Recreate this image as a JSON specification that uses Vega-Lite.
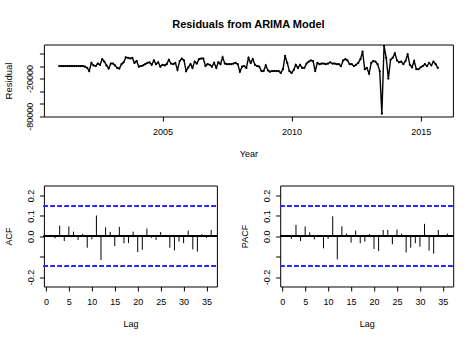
{
  "$schema": "https://vega.github.io/schema/vega-lite/v6.json",
  "background": "white",
  "padding": {"left": 2.9, "top": 18.5, "right": 0, "bottom": 0},
  "bounds": "flush",
  "spacing": 69,
  "datasets": {
    "resid": [
      {"month":"2001-01","residual":0},{"month":"2001-02","residual":0},{"month":"2001-03","residual":0},{"month":"2001-04","residual":0},{"month":"2001-05","residual":0},{"month":"2001-06","residual":0},{"month":"2001-07","residual":0},{"month":"2001-08","residual":0},{"month":"2001-09","residual":0},{"month":"2001-10","residual":0},{"month":"2001-11","residual":0},{"month":"2001-12","residual":0},
      {"month":"2002-01","residual":-1000},{"month":"2002-02","residual":-3000},{"month":"2002-03","residual":-8000},{"month":"2002-04","residual":5000},{"month":"2002-05","residual":1000},{"month":"2002-06","residual":0},{"month":"2002-07","residual":4000},{"month":"2002-08","residual":2000},{"month":"2002-09","residual":11000},{"month":"2002-10","residual":7000},{"month":"2002-11","residual":1000},{"month":"2002-12","residual":-4000},
      {"month":"2003-01","residual":4000},{"month":"2003-02","residual":4000},{"month":"2003-03","residual":1000},{"month":"2003-04","residual":-3000},{"month":"2003-05","residual":-4000},{"month":"2003-06","residual":3000},{"month":"2003-07","residual":6000},{"month":"2003-08","residual":14000},{"month":"2003-09","residual":13000},{"month":"2003-10","residual":12000},{"month":"2003-11","residual":13000},{"month":"2003-12","residual":5000},
      {"month":"2004-01","residual":8000},{"month":"2004-02","residual":-1000},{"month":"2004-03","residual":0},{"month":"2004-04","residual":1000},{"month":"2004-05","residual":3000},{"month":"2004-06","residual":5000},{"month":"2004-07","residual":6000},{"month":"2004-08","residual":2000},{"month":"2004-09","residual":9000},{"month":"2004-10","residual":3000},{"month":"2004-11","residual":6000},{"month":"2004-12","residual":-1000},
      {"month":"2005-01","residual":2000},{"month":"2005-02","residual":1000},{"month":"2005-03","residual":3000},{"month":"2005-04","residual":10000},{"month":"2005-05","residual":4000},{"month":"2005-06","residual":3000},{"month":"2005-07","residual":5000},{"month":"2005-08","residual":-6000},{"month":"2005-09","residual":8000},{"month":"2005-10","residual":12000},{"month":"2005-11","residual":9000},{"month":"2005-12","residual":-8000},
      {"month":"2006-01","residual":-2000},{"month":"2006-02","residual":3000},{"month":"2006-03","residual":-3000},{"month":"2006-04","residual":7000},{"month":"2006-05","residual":4000},{"month":"2006-06","residual":11000},{"month":"2006-07","residual":12000},{"month":"2006-08","residual":12000},{"month":"2006-09","residual":0},{"month":"2006-10","residual":3000},{"month":"2006-11","residual":2000},{"month":"2006-12","residual":-1000},
      {"month":"2007-01","residual":5000},{"month":"2007-02","residual":-3000},{"month":"2007-03","residual":6000},{"month":"2007-04","residual":3000},{"month":"2007-05","residual":14000},{"month":"2007-06","residual":4000},{"month":"2007-07","residual":3000},{"month":"2007-08","residual":3000},{"month":"2007-09","residual":3000},{"month":"2007-10","residual":4000},{"month":"2007-11","residual":5000},{"month":"2007-12","residual":3000},
      {"month":"2008-01","residual":-9000},{"month":"2008-02","residual":-1000},{"month":"2008-03","residual":0},{"month":"2008-04","residual":-3000},{"month":"2008-05","residual":13000},{"month":"2008-06","residual":5000},{"month":"2008-07","residual":11000},{"month":"2008-08","residual":2000},{"month":"2008-09","residual":0},{"month":"2008-10","residual":-1000},{"month":"2008-11","residual":-8000},{"month":"2008-12","residual":-8000},
      {"month":"2009-01","residual":1000},{"month":"2009-02","residual":-7000},{"month":"2009-03","residual":-9000},{"month":"2009-04","residual":-8000},{"month":"2009-05","residual":-8000},{"month":"2009-06","residual":-8000},{"month":"2009-07","residual":-8000},{"month":"2009-08","residual":-11000},{"month":"2009-09","residual":-5000},{"month":"2009-10","residual":16000},{"month":"2009-11","residual":5000},{"month":"2009-12","residual":-8000},
      {"month":"2010-01","residual":-11000},{"month":"2010-02","residual":-6000},{"month":"2010-03","residual":2000},{"month":"2010-04","residual":-3000},{"month":"2010-05","residual":2000},{"month":"2010-06","residual":-3000},{"month":"2010-07","residual":-3000},{"month":"2010-08","residual":4000},{"month":"2010-09","residual":7000},{"month":"2010-10","residual":9000},{"month":"2010-11","residual":8000},{"month":"2010-12","residual":-8000},
      {"month":"2011-01","residual":5000},{"month":"2011-02","residual":3000},{"month":"2011-03","residual":4000},{"month":"2011-04","residual":4000},{"month":"2011-05","residual":3000},{"month":"2011-06","residual":4000},{"month":"2011-07","residual":6000},{"month":"2011-08","residual":4000},{"month":"2011-09","residual":4000},{"month":"2011-10","residual":3000},{"month":"2011-11","residual":3000},{"month":"2011-12","residual":0},
      {"month":"2012-01","residual":9000},{"month":"2012-02","residual":11000},{"month":"2012-03","residual":9000},{"month":"2012-04","residual":3000},{"month":"2012-05","residual":3000},{"month":"2012-06","residual":0},{"month":"2012-07","residual":2000},{"month":"2012-08","residual":5000},{"month":"2012-09","residual":11000},{"month":"2012-10","residual":23000},{"month":"2012-11","residual":-5000},{"month":"2012-12","residual":-3000},
      {"month":"2013-01","residual":-12000},{"month":"2013-02","residual":5000},{"month":"2013-03","residual":8000},{"month":"2013-04","residual":7000},{"month":"2013-05","residual":3000},{"month":"2013-06","residual":-8000},{"month":"2013-07","residual":-76000},{"month":"2013-08","residual":32000},{"month":"2013-09","residual":13000},{"month":"2013-10","residual":-20000},{"month":"2013-11","residual":10000},{"month":"2013-12","residual":13000},
      {"month":"2014-01","residual":20000},{"month":"2014-02","residual":9000},{"month":"2014-03","residual":6000},{"month":"2014-04","residual":7000},{"month":"2014-05","residual":3000},{"month":"2014-06","residual":8000},{"month":"2014-07","residual":19000},{"month":"2014-08","residual":2000},{"month":"2014-09","residual":-2000},{"month":"2014-10","residual":8000},{"month":"2014-11","residual":-5000},{"month":"2014-12","residual":-5000},
      {"month":"2015-01","residual":-2000},{"month":"2015-02","residual":0},{"month":"2015-03","residual":3000},{"month":"2015-04","residual":0},{"month":"2015-05","residual":5000},{"month":"2015-06","residual":1000},{"month":"2015-07","residual":7000},{"month":"2015-08","residual":3000},{"month":"2015-09","residual":-3000}
    ],
    "acf": [
      {"lag":1,"acf":0.005,"pacf":0.005},{"lag":2,"acf":-0.01,"pacf":-0.013},{"lag":3,"acf":0.052,"pacf":0.056},{"lag":4,"acf":-0.023,"pacf":-0.023},{"lag":5,"acf":0.048,"pacf":0.048},{"lag":6,"acf":0.023,"pacf":0.02},
      {"lag":7,"acf":-0.018,"pacf":-0.015},{"lag":8,"acf":0.012,"pacf":0.007},{"lag":9,"acf":-0.056,"pacf":-0.059},{"lag":10,"acf":-0.015,"pacf":-0.013},{"lag":11,"acf":0.102,"pacf":0.098},{"lag":12,"acf":-0.116,"pacf":-0.113},
      {"lag":13,"acf":0.044,"pacf":0.049},{"lag":14,"acf":0.021,"pacf":0.013},{"lag":15,"acf":-0.048,"pacf":-0.031},{"lag":16,"acf":0.046,"pacf":0.028},{"lag":17,"acf":-0.034,"pacf":-0.034},{"lag":18,"acf":-0.033,"pacf":-0.026},
      {"lag":19,"acf":0.023,"pacf":0.011},{"lag":20,"acf":-0.077,"pacf":-0.062},{"lag":21,"acf":-0.066,"pacf":-0.072},{"lag":22,"acf":0.038,"pacf":0.031},{"lag":23,"acf":-0.007,"pacf":0.031},{"lag":24,"acf":-0.018,"pacf":-0.039},
      {"lag":25,"acf":0.021,"pacf":0.033},{"lag":26,"acf":-0.003,"pacf":0.013},{"lag":27,"acf":-0.056,"pacf":-0.079},{"lag":28,"acf":-0.069,"pacf":-0.056},{"lag":29,"acf":-0.026,"pacf":-0.034},{"lag":30,"acf":-0.034,"pacf":-0.051},
      {"lag":31,"acf":0.028,"pacf":0.061},{"lag":32,"acf":-0.064,"pacf":-0.07},{"lag":33,"acf":-0.075,"pacf":-0.085},{"lag":34,"acf":0.01,"pacf":0.031},{"lag":35,"acf":-0.008,"pacf":-0.003},{"lag":36,"acf":0.031,"pacf":0.013}
    ]
  },
  "vconcat": [
    {
      "width": 409,
      "height": 72,
      "title": {"text": "Residuals from ARIMA Model", "anchor": "middle", "frame": "group", "offset": 3.7, "baseline": "alphabetic"},
      "data": {"name": "resid"},
      "mark": {"type": "line", "color": "black", "strokeWidth": 1.4, "point": {"filled": true, "size": 5, "color": "black"}},
      "encoding": {
        "x": {
          "field": "month", "type": "temporal",
          "scale": {"type": "utc", "domain": [{"year": 2000, "month": 5, "date": 29, "utc": true}, {"year": 2016, "month": 4, "date": 1, "utc": true}]},
          "axis": {"values": [{"year": 2005, "utc": true}, {"year": 2010, "utc": true}, {"year": 2015, "utc": true}], "format": "%Y", "formatType": "utc", "labelOverlap": false, "labelBaseline": "alphabetic", "labelPadding": 13.8, "title": "Year", "titleX": 204.5, "titleY": 39.8, "titleBaseline": "alphabetic", "titleAlign": "center"}
        },
        "y": {
          "field": "residual", "type": "quantitative",
          "scale": {"domain": [-80400, 34300], "nice": false, "zero": false},
          "axis": {"values": [-80000, -60000, -40000, -20000, 0, 20000], "format": "d", "labelOverlap": false, "labelExpr": "datum.value == -80000 || datum.value == -20000 ? replace(datum.label, '\u2212', '-') : ''", "labelAngle": 270, "labelAlign": "center", "labelBaseline": "alphabetic", "labelPadding": 6.8, "title": "Residual", "titleFontSize": 9.5, "titleAngle": 270, "titleX": -32.5, "titleY": 36, "titleBaseline": "alphabetic", "titleAlign": "center"}
        }
      }
    },
    {
      "hconcat": [
        {
          "width": 173,
          "height": 101,
          "data": {"name": "acf"},
          "encoding": {
            "x": {"field": "lag", "type": "quantitative", "scale": {"domain": [-0.44, 37.25], "nice": false, "zero": false},
              "axis": {"values": [0, 5, 10, 15, 20, 25, 30, 35], "labelOverlap": false, "labelBaseline": "alphabetic", "labelPadding": 13.8, "title": "Lag", "titleX": 86.5, "titleY": 39.8, "titleBaseline": "alphabetic", "titleAlign": "center"}},
            "y": {"field": "acf", "type": "quantitative", "scale": {"domain": [-0.246, 0.249], "nice": false, "zero": false},
              "axis": {"values": [-0.2, -0.1, 0, 0.1, 0.2], "labelOverlap": false, "labelExpr": "datum.value < -0.05 && datum.value > -0.15 ? '' : replace(format(datum.value, '.1f'), '\u2212', '-')", "labelAngle": 270, "labelAlign": "center", "labelBaseline": "alphabetic", "labelPadding": 5.8, "title": "ACF", "titleAngle": 270, "titleX": -32.5, "titleY": 50.5, "titleBaseline": "alphabetic", "titleAlign": "center"}}
          },
          "layer": [
            {
              "mark": {"type": "rule", "color": "black", "strokeWidth": 1},
              "encoding": {"y2": {"datum": 0}}
            },
            {
              "mark": {"type": "rule", "color": "black", "strokeWidth": 1},
              "encoding": {"x": {"value": 0}, "x2": {"value": 173}, "y": {"datum": 0}}
            },
            {
              "mark": {"type": "rule", "color": "#2a2aff", "strokeWidth": 1, "strokeDash": [4, 3]},
              "encoding": {"x": {"value": 0}, "x2": {"value": 173}, "y": {"datum": 0.1473}}
            },
            {
              "mark": {"type": "rule", "color": "#2a2aff", "strokeWidth": 1, "strokeDash": [4, 3]},
              "encoding": {"x": {"value": 0}, "x2": {"value": 173}, "y": {"datum": -0.1473}}
            }
          ]
        },
        {
          "width": 173,
          "height": 101,
          "data": {"name": "acf"},
          "encoding": {
            "x": {"field": "lag", "type": "quantitative", "scale": {"domain": [-0.44, 37.25], "nice": false, "zero": false},
              "axis": {"values": [0, 5, 10, 15, 20, 25, 30, 35], "labelOverlap": false, "labelBaseline": "alphabetic", "labelPadding": 13.8, "title": "Lag", "titleX": 86.5, "titleY": 39.8, "titleBaseline": "alphabetic", "titleAlign": "center"}},
            "y": {"field": "pacf", "type": "quantitative", "scale": {"domain": [-0.246, 0.249], "nice": false, "zero": false},
              "axis": {"values": [-0.2, -0.1, 0, 0.1, 0.2], "labelOverlap": false, "labelExpr": "datum.value < -0.05 && datum.value > -0.15 ? '' : replace(format(datum.value, '.1f'), '\u2212', '-')", "labelAngle": 270, "labelAlign": "center", "labelBaseline": "alphabetic", "labelPadding": 5.8, "title": "PACF", "titleAngle": 270, "titleX": -32.5, "titleY": 50.5, "titleBaseline": "alphabetic", "titleAlign": "center"}}
          },
          "layer": [
            {
              "mark": {"type": "rule", "color": "black", "strokeWidth": 1},
              "encoding": {"y2": {"datum": 0}}
            },
            {
              "mark": {"type": "rule", "color": "black", "strokeWidth": 1},
              "encoding": {"x": {"value": 0}, "x2": {"value": 173}, "y": {"datum": 0}}
            },
            {
              "mark": {"type": "rule", "color": "#2a2aff", "strokeWidth": 1, "strokeDash": [4, 3]},
              "encoding": {"x": {"value": 0}, "x2": {"value": 173}, "y": {"datum": 0.1473}}
            },
            {
              "mark": {"type": "rule", "color": "#2a2aff", "strokeWidth": 1, "strokeDash": [4, 3]},
              "encoding": {"x": {"value": 0}, "x2": {"value": 173}, "y": {"datum": -0.1473}}
            }
          ]
        }
      ],
      "spacing": 63.3,
      "bounds": "flush"
    }
  ],
  "config": {
    "font": "Liberation Sans",
    "view": {"stroke": "black", "strokeWidth": 1},
    "axis": {"grid": false, "domain": false, "ticks": true, "tickColor": "black", "tickSize": 4.5, "tickWidth": 1, "labelColor": "black", "labelFontSize": 9, "labelFont": "Liberation Sans", "titleFont": "Liberation Sans", "titleFontSize": 9, "titleFontWeight": "normal", "titleColor": "black", "labelOverlap": false, "labelFlush": false},
    "title": {"font": "Liberation Sans", "fontSize": 11, "fontWeight": "bold", "color": "black"}
  }
}
